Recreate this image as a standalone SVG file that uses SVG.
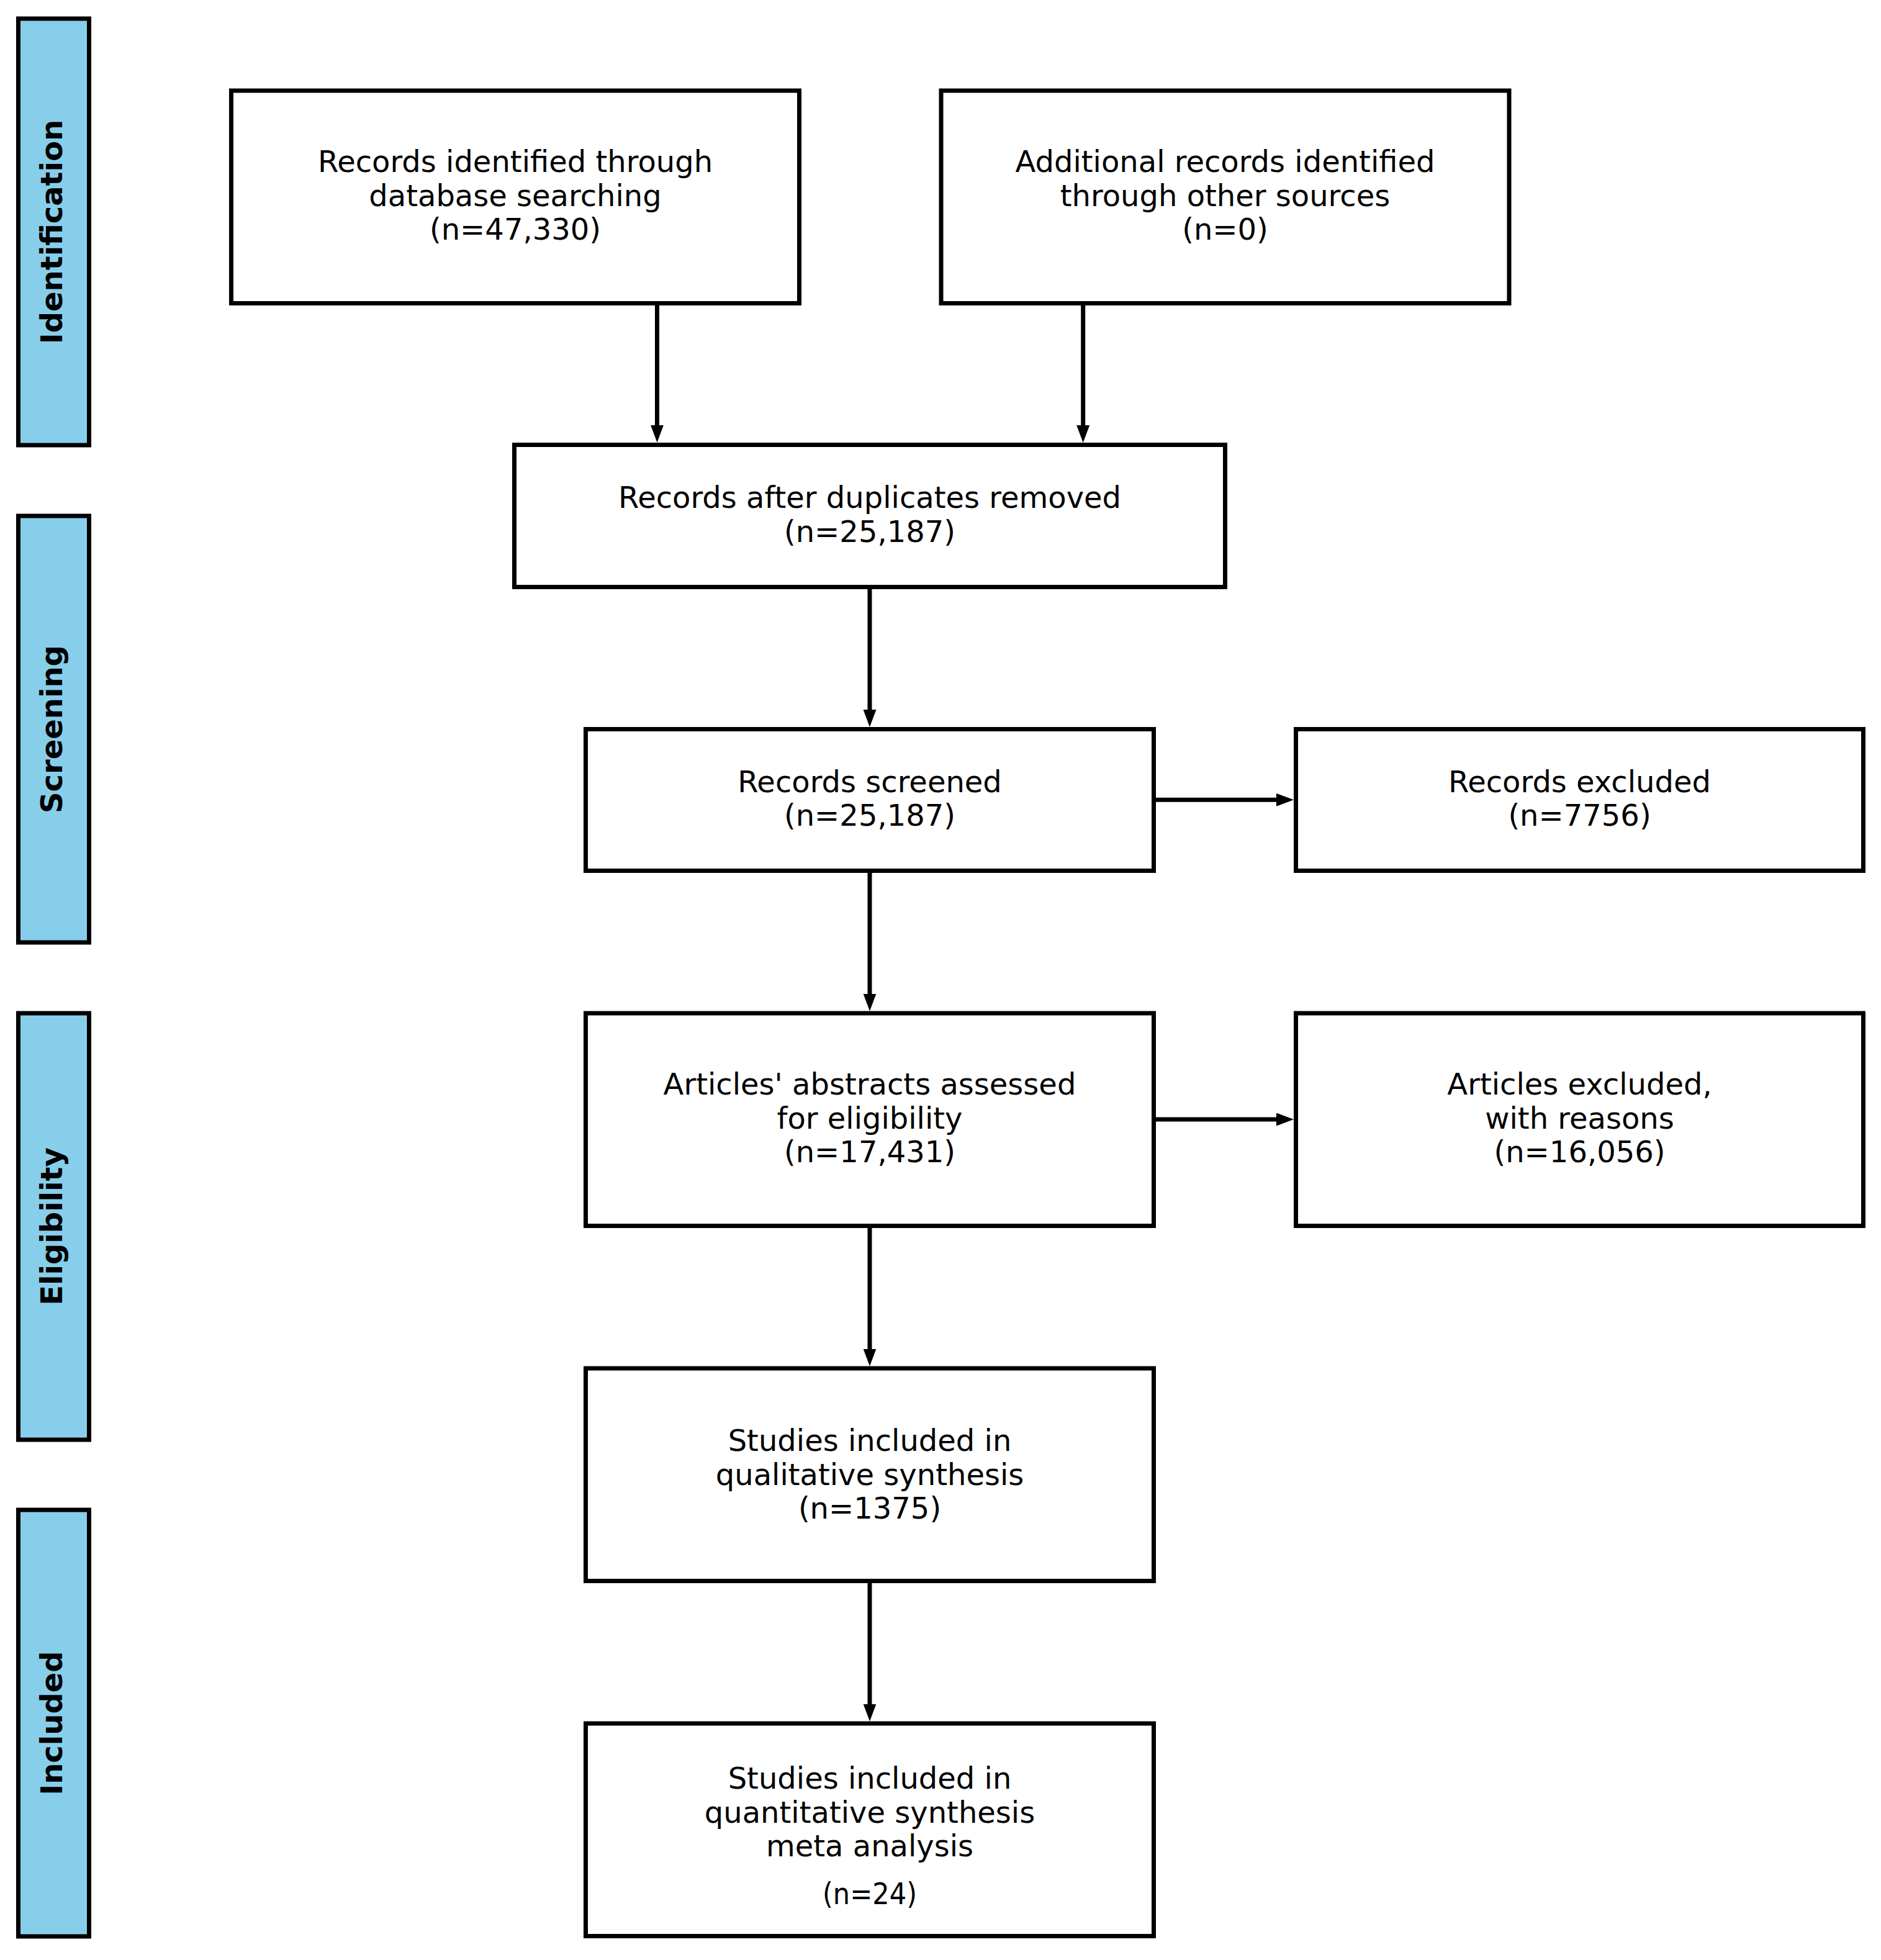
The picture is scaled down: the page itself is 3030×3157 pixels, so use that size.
<svg xmlns="http://www.w3.org/2000/svg" width="3030" height="3157" viewBox="0 0 3030 3157">
<style>
.bg{fill:#ffffff}
.box{fill:#ffffff;stroke:#000000;stroke-width:7}
.phase{fill:#87CEEB;stroke:#000000;stroke-width:7}
.t{font-family:"DejaVu Sans","Liberation Sans",sans-serif;font-size:48px;fill:#000000;text-anchor:middle}
.pt{font-family:"DejaVu Sans","Liberation Sans",sans-serif;font-size:48px;font-weight:bold;fill:#000000;text-anchor:middle}
.conn{fill:none;stroke:#000000;stroke-width:7}
</style>
<defs>
<marker id="ah" markerUnits="userSpaceOnUse" markerWidth="28" markerHeight="21" refX="4" refY="10.5" orient="auto">
<path d="M0,0 L28,10.5 L0,21 z" fill="#000000"/>
</marker>
</defs>
<rect class="bg" x="0" y="0" width="3030" height="3157"/>
<g id="phase-identification">
<rect class="phase" x="29.5" y="30" width="114" height="687"/>
<text class="pt" transform="translate(100,373.5) rotate(-90)">Identification</text>
</g>
<g id="phase-screening">
<rect class="phase" x="29.5" y="831" width="114" height="687"/>
<text class="pt" transform="translate(100,1174.5) rotate(-90)">Screening</text>
</g>
<g id="phase-eligibility">
<rect class="phase" x="29.5" y="1632" width="114" height="687"/>
<text class="pt" transform="translate(100,1975.5) rotate(-90)">Eligibility</text>
</g>
<g id="phase-included">
<rect class="phase" x="29.5" y="2432" width="114" height="687"/>
<text class="pt" transform="translate(100,2775.5) rotate(-90)">Included</text>
</g>
<g id="connectors">
<path class="conn" marker-end="url(#ah)" d="M1058.5,488 V688.7"/>
<path class="conn" marker-end="url(#ah)" d="M1744.7,488 V689"/>
<path class="conn" marker-end="url(#ah)" d="M1401,946 V1147"/>
<path class="conn" marker-end="url(#ah)" d="M1858.5,1288.3 H2060"/>
<path class="conn" marker-end="url(#ah)" d="M1401,1402 V1604.5"/>
<path class="conn" marker-end="url(#ah)" d="M1858.5,1803 H2060"/>
<path class="conn" marker-end="url(#ah)" d="M1401,1974.5 V2176.5"/>
<path class="conn" marker-end="url(#ah)" d="M1401,2546.5 V2748.5"/>
</g>
<g id="node-database">
<rect class="box" x="372.5" y="146" width="915" height="342.5"/>
<text class="t" x="830" y="277">Records identified through</text>
<text class="t" x="830" y="331.5">database searching</text>
<text class="t" x="830" y="386">(n=47,330)</text>
</g>
<g id="node-other">
<rect class="box" x="1516" y="146" width="915" height="342.5"/>
<text class="t" x="1973.5" y="277">Additional records identified</text>
<text class="t" x="1973.5" y="331.5">through other sources</text>
<text class="t" x="1973.5" y="386">(n=0)</text>
</g>
<g id="node-dedup">
<rect class="box" x="828.5" y="716.5" width="1145" height="229"/>
<text class="t" x="1401" y="818">Records after duplicates removed</text>
<text class="t" x="1401" y="873">(n=25,187)</text>
</g>
<g id="node-screened">
<rect class="box" x="943.5" y="1174.5" width="915" height="228"/>
<text class="t" x="1401" y="1275.5">Records screened</text>
<text class="t" x="1401" y="1330">(n=25,187)</text>
</g>
<g id="node-excluded">
<rect class="box" x="2087.5" y="1174.5" width="914" height="228"/>
<text class="t" x="2544.5" y="1275.5">Records excluded</text>
<text class="t" x="2544.5" y="1330">(n=7756)</text>
</g>
<g id="node-eligibility">
<rect class="box" x="943.5" y="1632" width="915" height="342.5"/>
<text class="t" x="1401" y="1763">Articles' abstracts assessed</text>
<text class="t" x="1401" y="1817.5">for eligibility</text>
<text class="t" x="1401" y="1872">(n=17,431)</text>
</g>
<g id="node-articles-excluded">
<rect class="box" x="2087.5" y="1632" width="914" height="342.5"/>
<text class="t" x="2544.5" y="1763">Articles excluded,</text>
<text class="t" x="2544.5" y="1817.5">with reasons</text>
<text class="t" x="2544.5" y="1872">(n=16,056)</text>
</g>
<g id="node-qualitative">
<rect class="box" x="943.5" y="2204" width="915" height="342.5"/>
<text class="t" x="1401" y="2337">Studies included in</text>
<text class="t" x="1401" y="2391.5">qualitative synthesis</text>
<text class="t" x="1401" y="2446">(n=1375)</text>
</g>
<g id="node-quantitative">
<rect class="box" x="943.5" y="2776" width="915" height="342.5"/>
<text class="t" x="1401" y="2881">Studies included in</text>
<text class="t" x="1401" y="2935.5">quantitative synthesis</text>
<text class="t" x="1401" y="2990">meta analysis</text>
<text class="t" x="1401" y="3067" textLength="152" lengthAdjust="spacingAndGlyphs">(n=24)</text>
</g>
</svg>
